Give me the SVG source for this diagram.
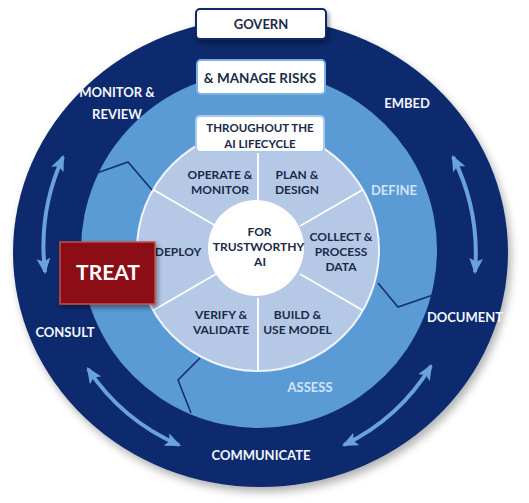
<svg xmlns="http://www.w3.org/2000/svg" width="529" height="503" viewBox="0 0 529 503">
<defs>
<filter id="sh" x="-10%" y="-10%" width="125%" height="125%"><feDropShadow dx="3" dy="5" stdDeviation="4" flood-color="#000" flood-opacity="0.3"/></filter>
<filter id="sh2" x="-20%" y="-20%" width="150%" height="150%"><feDropShadow dx="2" dy="3" stdDeviation="2.5" flood-color="#000" flood-opacity="0.4"/></filter>
<marker id="ah" viewBox="0 0 14 14" refX="12" refY="7" markerWidth="16" markerHeight="16" markerUnits="userSpaceOnUse" orient="auto-start-reverse"><path d="M0,1 L14,7 L0,13 L3,7 z" fill="#6aa3db"/></marker>
<style>
text{font-family:Lato,"Open Sans","Liberation Sans",sans-serif;font-weight:bold;text-anchor:middle}
.dk{fill:#1c2a48;font-size:12px}
.wt{fill:#f2f6fc;font-size:13px}
.lb{fill:#d3e4f6;font-size:13px}
.box{fill:#fff;stroke-width:2}
.arr{fill:none;stroke:#6aa3db;stroke-width:4;marker-start:url(#ah);marker-end:url(#ah)}
.zig{fill:none;stroke:#14306e;stroke-width:1.6}
.div{stroke:#fff;stroke-width:1.8}
</style>
</defs>
<rect width="529" height="503" fill="#fff"/>
<g id="rings">
<ellipse cx="260.5" cy="252.5" rx="247.5" ry="234.5" fill="#0d2a6e" filter="url(#sh)"/>
<circle cx="259" cy="250" r="178" fill="#5b9bd5"/>
<circle cx="258" cy="250" r="121" fill="#b5c9e7" stroke="#eef4fb" stroke-width="2"/>
<line class="div" x1="258" y1="129" x2="258" y2="202"/>
<line class="div" x1="258" y1="298" x2="258" y2="371"/>
<line class="div" x1="153" y1="189.5" x2="216" y2="226"/>
<line class="div" x1="363" y1="189.5" x2="300" y2="226"/>
<line class="div" x1="153" y1="310.5" x2="216" y2="274"/>
<line class="div" x1="363" y1="310.5" x2="300" y2="274"/>
<circle cx="256" cy="248" r="48" fill="#fff"/>
</g>
<g id="connectors">
<path class="arr" d="M 45 272 A 216 216 0 0 1 63 157"/>
<path class="arr" d="M 453 157 A 216 216 0 0 1 475 272"/>
<path class="arr" d="M 179 445 A 209 209 0 0 1 88 369"/>
<path class="arr" d="M 431 366 A 207 207 0 0 1 344 445"/>
<polyline class="zig" points="97,173 128,162 152,190"/>
<polyline class="zig" points="378,283 398,307 433,295"/>
<polyline class="zig" points="200,358 178,380 191,413"/>
</g>
<g id="govern"><rect class="box" x="196" y="9" width="130" height="30" rx="4" stroke="#0d2a6e" filter="url(#sh2)"/><text class="dk" x="261" y="29" style="font-size:13px">GOVERN</text></g>
<g id="manage-risks"><rect class="box" x="197" y="60" width="128" height="34" rx="4" stroke="#7fb1e0"/><text class="dk" x="260" y="83" style="font-size:13.5px">&amp; MANAGE RISKS</text></g>
<g id="lifecycle"><rect class="box" x="196" y="116" width="128" height="36" rx="4" stroke="#a9c8ea"/><text class="dk" x="260" y="132" style="font-size:11.5px">THROUGHOUT THE</text><text class="dk" x="260" y="148" style="font-size:11.5px">AI LIFECYCLE</text></g>
<g id="monitor-review"><text class="wt" x="117" y="97">MONITOR &amp;</text><text class="wt" x="117" y="119">REVIEW</text></g>
<g id="embed"><text class="wt" x="407" y="108">EMBED</text></g>
<g id="define"><text class="lb" x="394" y="195">DEFINE</text></g>
<g id="operate"><text class="dk" x="220" y="179">OPERATE &amp;</text><text class="dk" x="220" y="194">MONITOR</text></g>
<g id="plan"><text class="dk" x="297" y="179">PLAN &amp;</text><text class="dk" x="297" y="194">DESIGN</text></g>
<g id="center"><text class="dk" x="259.5" y="236">FOR</text><text class="dk" x="258.5" y="251">TRUSTWORTHY</text><text class="dk" x="260" y="266">AI</text></g>
<g id="collect"><text class="dk" x="341" y="241">COLLECT &amp;</text><text class="dk" x="341" y="256">PROCESS</text><text class="dk" x="341" y="271">DATA</text></g>
<g id="deploy"><text class="dk" x="178" y="256">DEPLOY</text></g>
<g id="verify"><text class="dk" x="221" y="319">VERIFY &amp;</text><text class="dk" x="221" y="334">VALIDATE</text></g>
<g id="build"><text class="dk" x="297.5" y="319">BUILD &amp;</text><text class="dk" x="297.5" y="334">USE MODEL</text></g>
<g id="treat"><rect x="60" y="242" width="95" height="62" fill="#8c0f12" stroke="#c0504d" stroke-width="1.5" filter="url(#sh2)"/><text x="108" y="280" style="fill:#fff;font-size:21px">TREAT</text></g>
<g id="consult"><text class="wt" x="65" y="337">CONSULT</text></g>
<g id="document"><text class="wt" x="465" y="322">DOCUMENT</text></g>
<g id="assess"><text class="lb" x="310" y="392">ASSESS</text></g>
<g id="communicate"><text class="wt" x="261" y="460">COMMUNICATE</text></g>
</svg>
